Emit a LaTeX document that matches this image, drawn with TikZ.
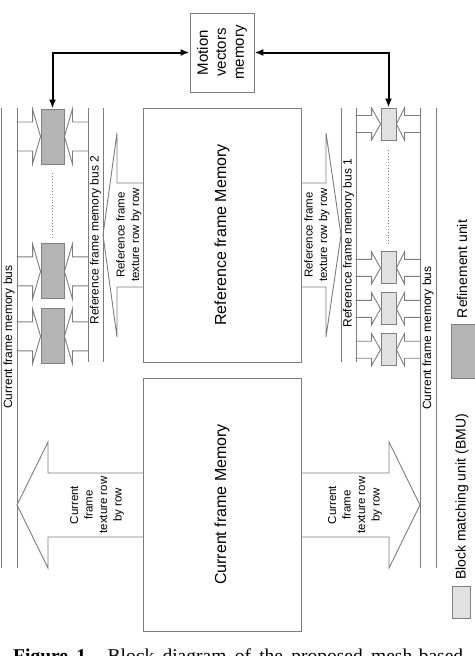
\documentclass[tikz,border=0pt]{standalone}
\usepackage{fontspec}
\setmainfont{Liberation Sans}
\newfontfamily\capfont{Liberation Serif}
\usetikzlibrary{arrows.meta}
\usetikzlibrary{positioning}
\usetikzlibrary{calc}

\definecolor{linegray}{RGB}{125,125,125}
\definecolor{refgray}{RGB}{180,180,180}
\definecolor{bmugray}{RGB}{225,225,225}

% block arrow: tip, head length, shaft length, half shaft, half head
\newcommand{\blockarrow}[5]{%
  \draw[busline] ($(#1)+({-(#2)-(#3)},{-(#4)})$) -- ++(#3,0) -- ++(0,{(#4)-(#5)}) -- (#1)
    -- ++({-(#2)},#5) -- ++(0,{(#4)-(#5)}) -- ++({-(#3)},0);}

\begin{document}
\begin{tikzpicture}[x=1pt,y=-1pt,
    busline/.style={draw=linegray,line width=0.9pt},
    box/.style={draw=linegray,line width=0.9pt,inner sep=0pt},
    refunit/.style={draw=gray,line width=0.9pt,fill=refgray,minimum width=23pt,minimum height=55pt,inner sep=0pt},
    bmu/.style={draw=gray,line width=0.9pt,fill=bmugray,minimum width=15pt,minimum height=32pt,inner sep=0pt},
    buslabel/.style={rotate=90,inner sep=0pt,font=\fontsize{12}{14}\selectfont},
    texlabel/.style={rotate=90,inner sep=0pt,align=center,font=\fontsize{11.5}{14.5}\selectfont},
    leglabel/.style={rotate=90,inner sep=0pt,font=\fontsize{14}{16}\selectfont},
    dots/.style={draw=gray,dotted,line width=0.9pt},
    link/.style={line width=2pt,{Latex[length=9pt,width=7pt]}-{Latex[length=9pt,width=7pt]}}]

    \useasboundingbox (0,0) rectangle (474,656);

    % memories
    \node[box,minimum width=64pt,minimum height=79pt] (mvm) at (222,52.5) {};
    \node[rotate=90,align=center,font=\fontsize{15}{18}\selectfont] (mvmtxt) at (mvm) {Motion\\vectors\\memory};
    \node[box,minimum width=158pt,minimum height=254pt] (rfm) at (222,235) {};
    \node[rotate=90,font=\fontsize{16}{19}\selectfont] (rfmtxt) at (rfm) {Reference frame Memory};
    \node[box,minimum width=158pt,minimum height=253pt] (cfm) at (222,504.5) {};
    \node[rotate=90,font=\fontsize{16}{19}\selectfont] (cfmtxt) at (cfm) {Current frame Memory};

    % buses
    \draw[busline] (1,108) -- (1,568);
    \draw[busline] (17,108) -- (17,568);
    \draw[busline] (88,108) -- (88,362);
    \draw[busline] (103,108) -- (103,362);
    \draw[busline] (341,108) -- (341,362);
    \draw[busline] (356,108) -- (356,362);
    \draw[busline] (420,108) -- (420,568);
    \draw[busline] (436,108) -- (436,568);

    \node[buslabel] (cfbusl) at (9,337) {Current frame memory bus};
    \node[buslabel] (rbus2) at (95.5,240) {Reference frame memory bus 2};
    \node[buslabel] (rbus1) at (348.5,243) {Reference frame memory bus 1};
    \node[buslabel] (cfbusr) at (428,338) {Current frame memory bus};

    % units
    \node[refunit] (ru1) at (52.5,136.5) {};
    \node[refunit,below=79pt of ru1] (ru2) {};
    \node[refunit,below=9pt of ru2] (ru3) {};
    \draw[dots,shorten <=9pt,shorten >=6pt] (ru1.south) -- (ru2.north);

    \node[bmu] (bmu1) at (388.5,124) {};
    \node[bmu,below=111pt of bmu1] (bmu2) {};
    \node[bmu,below=8pt of bmu2] (bmu3) {};
    \node[bmu,below=8pt of bmu3] (bmu4) {};
    \draw[dots,shorten <=10pt,shorten >=8pt] (bmu1.south) -- (bmu2.north);

    \blockarrow{ru1.west}{8}{16}{14.5}{27.5}
    \blockarrow{ru1.east}{-8}{-16}{14.5}{27.5}
    \blockarrow{ru2.west}{8}{16}{14.5}{27.5}
    \blockarrow{ru2.east}{-8}{-16}{14.5}{27.5}
    \blockarrow{ru3.west}{8}{16}{14.5}{27.5}
    \blockarrow{ru3.east}{-8}{-16}{14.5}{27.5}

    \blockarrow{bmu1.west}{9}{16}{8.5}{16}
    \blockarrow{bmu1.east}{-8}{-16}{8.5}{16}
    \blockarrow{bmu2.west}{9}{16}{8.5}{16}
    \blockarrow{bmu2.east}{-8}{-16}{8.5}{16}
    \blockarrow{bmu3.west}{9}{16}{8.5}{16}
    \blockarrow{bmu3.east}{-8}{-16}{8.5}{16}
    \blockarrow{bmu4.west}{9}{16}{8.5}{16}
    \blockarrow{bmu4.east}{-8}{-16}{8.5}{16}

    % texture arrows
    \coordinate (rtipl) at (103,235);
    \coordinate (rtipr) at (341,235);
    \coordinate (ctipl) at (17,505);
    \coordinate (ctipr) at (420,505);
    \blockarrow{rtipl}{-14}{-26}{52}{102}
    \blockarrow{rtipr}{15}{25}{52}{102}
    \blockarrow{ctipl}{-31}{-95}{32}{63}
    \blockarrow{ctipr}{31}{88}{32}{63}

    \node[texlabel] (rtexl) at (129,235) {Reference frame\\texture row by row};
    \node[texlabel] (rtexr) at (317,235) {Reference frame\\texture row by row};
    \node[texlabel] (ctexl) at (97,505) {Current\\frame\\texture row\\by row};
    \node[texlabel] (ctexr) at (355,505) {Current\\frame\\texture row\\by row};

    % motion vectors links
    \draw[link] (mvm.west) -| (ru1.north);
    \draw[link] (mvm.east) -| (bmu1.north);

    % legend
    \node[refunit,minimum width=24pt,minimum height=54pt] (legru) at (463,351) {};
    \node[leglabel] (legrutxt) at (462,269) {Refinement unit};
    \node[bmu,minimum width=18pt,minimum height=32pt] (legbmu) at (461,602) {};
    \node[leglabel] (legbmutxt) at (462,497) {Block matching unit (BMU)};

    \node[anchor=base west,inner sep=0pt,font=\capfont\fontsize{19.5}{23}\selectfont] (cap) at (13,662) {\makebox[450pt][s]{\textbf{Figure 1.} Block diagram of the proposed mesh-based}};
\end{tikzpicture}
\end{document}
